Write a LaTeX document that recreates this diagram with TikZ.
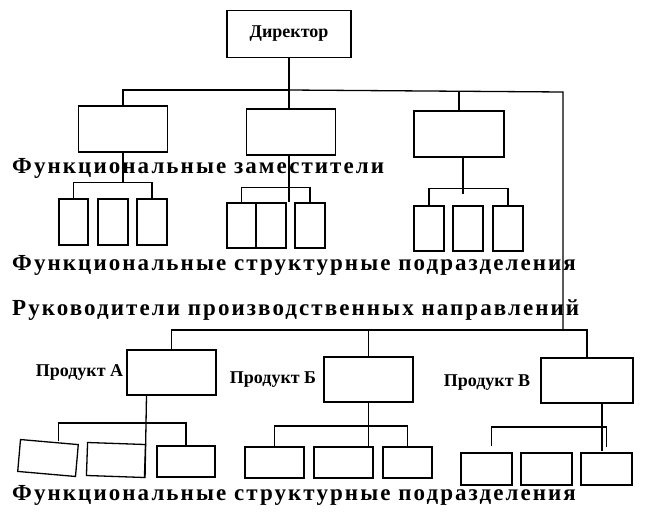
\documentclass[tikz,border=0pt]{standalone}
\usepackage{fontspec}
\setmainfont{Liberation Serif}
\newfontfamily\spaced[LetterSpace=9]{Liberation Serif}
\usetikzlibrary{positioning}
\tikzstyle{box} = [rectangle, draw=black, line width=1.3pt, inner sep=0pt]
\tikzstyle{lbl} = [font=\bfseries\fontsize{18}{20}\selectfont, inner sep=0pt]
\tikzstyle{wide} = [font=\spaced\bfseries\fontsize{23}{25}\selectfont, anchor=west, inner sep=0pt]
\tikzstyle{line} = [line width=1.3pt]
\begin{document}
\begin{tikzpicture}[x=1pt,y=-1pt]
\useasboundingbox (0,0) rectangle (647,514);
\node (dir) [box, minimum width=124pt, minimum height=47pt] at (289,34) {\bfseries\fontsize{18}{20}\selectfont Директор};

\node (d1) [box, minimum width=89pt, minimum height=46pt] at (123,129) {};
\node (d2) [box, minimum width=89pt, minimum height=46pt] at (291,132) {};
\node (d3) [box, minimum width=90pt, minimum height=46pt] at (459,134) {};
\node (tdep) [wide] at (12,168) {Функциональные заместители};

\node (s11) [box, minimum width=29pt, minimum height=46pt] at (73.5,222) {};
\node (s12) [box, minimum width=30pt, minimum height=46pt] at (113,222) {};
\node (s13) [box, minimum width=30pt, minimum height=46pt] at (152,222) {};
\node (s21) [box, minimum width=29pt, minimum height=45pt] at (241.5,225.5) {};
\node (s22) [box, minimum width=30pt, minimum height=45pt] at (271,225.5) {};
\node (s23) [box, minimum width=30pt, minimum height=45pt] at (310,225.5) {};
\node (s31) [box, minimum width=30pt, minimum height=45pt] at (429,228.5) {};
\node (s32) [box, minimum width=30pt, minimum height=45pt] at (468,228.5) {};
\node (s33) [box, minimum width=30pt, minimum height=45pt] at (508,228.5) {};
\node (tsub1) [wide] at (12,265) {Функциональные структурные подразделения};
\node (tman) [wide] at (12,310) {Руководители производственных направлений};

\node (pa) [box, minimum width=89pt, minimum height=45pt] at (171.5,372.5) {};
\node (pb) [box, minimum width=89pt, minimum height=45pt] at (368.5,379.5) {};
\node (pc) [box, minimum width=92pt, minimum height=45pt] at (587,380.5) {};
\node (la) [lbl, left=3pt of pa] {Продукт А};
\node (lb) [lbl, left=7pt of pb] {Продукт Б};
\node (lc) [lbl, left=10pt of pc, yshift=-2pt] {Продукт В};

\node (a1) [box, minimum width=58pt, minimum height=32pt, rotate=-5] at (48,458) {};
\node (a2) [box, minimum width=58pt, minimum height=33pt, rotate=-2] at (116,460) {};
\node (a3) [box, minimum width=58pt, minimum height=31pt] at (186,461.5) {};
\node (b1) [box, minimum width=59pt, minimum height=31pt] at (274.5,462.5) {};
\node (b2) [box, minimum width=59pt, minimum height=31pt] at (343.5,462.5) {};
\node (b3) [box, minimum width=49pt, minimum height=31pt] at (407.5,462.5) {};
\node (c1) [box, minimum width=51pt, minimum height=32pt] at (486.5,469) {};
\node (c2) [box, minimum width=51pt, minimum height=32pt] at (546.5,469) {};
\node (c3) [box, minimum width=51pt, minimum height=32pt] at (606.5,469) {};
\node (tsub2) [wide] at (12,495) {Функциональные структурные подразделения};

\coordinate (hub) at (289,90);
\coordinate (corner) at (563,92);
\coordinate (phub) at (563,330);
% top level
\draw [line] (dir.south) -- (hub) -- (d2.north -| hub);
\draw [line] (hub) -| (d1.north);
\draw [line] (hub) -- (corner) -- (phub);
\draw [line] (corner -| d3.north) -- (d3.north);
\draw [line] (pa.north) |- (phub) -| (pc.north);
\draw [line] (phub -| pb.north) -- (pb.north);
% deputies
\draw [line] (d1.south) -- ++(0,30) -| (s11.north);
\draw [line] (d1.south) ++(0,30) -| (s13.north);
\draw [line] (d2.south -| hub) -- (s22.north -| hub);
\draw [line] (d2.south -| hub) ++(0,32) -| (s21.north);
\draw [line] (d2.south -| hub) ++(0,32) -| (s23.north);
\draw [line] (d3.south) ++(4,0) -- ++(0,36);
\draw [line] (d3.south) ++(4,31) -| (s31.north);
\draw [line] (d3.south) ++(4,31) -| (s33.north);
% products
\draw [line] (pa.south) ++(-25,0) -- (a2.south east);
\draw [line] (a1.north) ++(9,0) |- (a3.north |- 0,423) -- (a3.north);
\draw [line] (pb.south) -- (pb.south |- b2.north);
\draw [line] (b1.north) |- (b3.north |- 0,426) -- (b3.north);
\draw [line] (pc.south) ++(15,0) -- ++(0,47);
\draw [line] (c1.north) ++(5,-6) |- (c3.north |- 0,427) -- ++(0,20);
\end{tikzpicture}
\end{document}
